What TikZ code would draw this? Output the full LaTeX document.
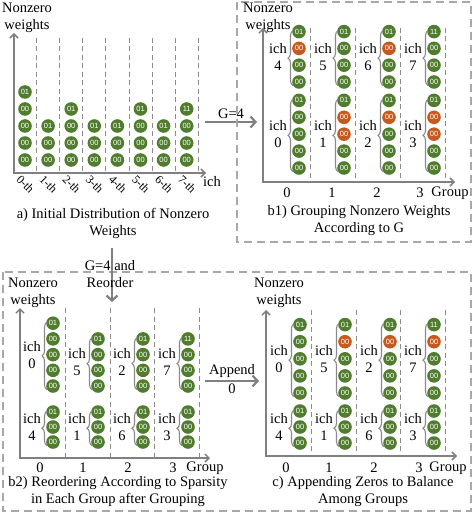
\documentclass[tikz,border=0pt]{standalone}
\usepackage{fontspec}
\setmainfont{Liberation Serif}
\setsansfont{Liberation Sans}
\usetikzlibrary{positioning,arrows.meta,calc,decorations.pathreplacing}

% one column of weight dots, listed from bottom to top
\newcommand\wstack[5]{%
 \foreach[count=\wi from 0] \wsty/\wtxt in {#5}{%
  \node[\wsty] (#1-\wi) at (#2,#3-\wi*#4) {\wtxt};
  \xdef\wtop{\wi}}}
% a column with its brace and ich label
\newcommand\wgroup[6]{%
 \wstack{#1}{#2}{#3}{#4}{#5}
 \draw[grpbrace] ([shift={(-6pt,-3.5pt)}]#1-0.center) -- ([shift={(-6pt,1pt)}]#1-\wtop.center);
 \node[ichlbl] (#1-ich) at ($(#1-0)!.5!(#1-\wtop)+(-21,0)$) {ich\\#6};}

\begin{document}
\begin{tikzpicture}[x=1pt,y=-1pt,font=\fontsize{14.5}{17}\selectfont,
 wt/.style={circle,fill=wgreen,text=white,inner sep=0pt,minimum size=13.6pt,font=\sffamily\fontsize{7.5}{8}\selectfont},
 pad/.style={wt,fill=padorange},
 axis/.style={draw=axisgray,line width=1.5pt,{Straight Barb[length=4pt,width=8pt]}-{Straight Barb[length=4pt,width=8pt]}},
 sep/.style={draw=sepgray,line width=.8pt,dash pattern=on 5pt off 3.5pt},
 panel/.style={draw=boxgray,line width=1.2pt,dash pattern=on 8pt off 5pt},
 flowarrow/.style={draw=axisgray,line width=2.2pt,-{Straight Barb[length=5pt,width=11pt]}},
 grpbrace/.style={draw=bracegray,line width=1.1pt,decorate,decoration={brace,amplitude=5pt}},
 ichlbl/.style={align=center,inner sep=0pt},
 captext/.style={align=center,inner sep=0pt},
 thlbl/.style={rotate=-45,inner sep=0pt,font=\fontsize{12}{14}\selectfont}]
\definecolor{wgreen}{HTML}{507C2E}
\definecolor{padorange}{HTML}{C65A1E}
\definecolor{axisgray}{HTML}{808080}
\definecolor{sepgray}{HTML}{8C8C8C}
\definecolor{boxgray}{HTML}{A8A8A8}
\definecolor{bracegray}{HTML}{8A8A8A}
\useasboundingbox (0,0) rectangle (474,513);
% a) initial distribution
\node[captext] (a-ylbl) at (27,18) {Nonzero\\weights};
\coordinate (a-o) at (14,173);
\coordinate (a-y) at (14,33);
\coordinate (a-x) at (206,173);
\foreach \i in {0,...,7} \draw[sep] (36.5+23.1*\i,38) -- (36.5+23.1*\i,173);
\draw[axis] (a-y) -- (a-o) -- (a-x);
\node (a-xlbl) at (212,182) {ich};
\wstack{a0}{25}{160}{17}{wt/00,wt/00,wt/00,wt/00,wt/01}
\wstack{a1}{48.1}{160}{17}{wt/00,wt/00,wt/01}
\wstack{a2}{71.2}{160}{17}{wt/00,wt/00,wt/00,wt/01}
\wstack{a3}{94.3}{160}{17}{wt/00,wt/00,wt/01}
\wstack{a4}{117.4}{160}{17}{wt/00,wt/00,wt/01}
\wstack{a5}{140.5}{160}{17}{wt/00,wt/00,wt/00,wt/01}
\wstack{a6}{163.6}{160}{17}{wt/00,wt/00,wt/01}
\wstack{a7}{186.7}{160}{17}{wt/00,wt/00,wt/00,wt/11}
\foreach \i in {0,...,7} \node[thlbl] (a\i-th) at (25.5+23.1*\i,184.5) {\i-th};
\node[captext] (a-cap) at (113,223) {a) Initial Distribution of Nonzero\\Weights};
\coordinate (g4a) at (205,122);
\coordinate (g4b) at (257,122);
\draw[flowarrow] (g4a) -- node[above,inner sep=2.5pt] (g4lbl) {G=4} (g4b);
% b1) grouping
\draw[panel] (237,2) rectangle (471,242);
\node[captext] (b1-ylbl) at (268,18) {Nonzero\\weights};
\coordinate (b1-o) at (263,182);
\coordinate (b1-y) at (263,28);
\coordinate (b1-x) at (455,182);
\foreach \x in {310,355,400,445} \draw[sep] (\x,28) -- (\x,182);
\draw[axis] (b1-y) -- (b1-o) -- (b1-x);
\wgroup{b1t0}{299}{82}{16.8}{wt/00,wt/00,pad/00,wt/01}{4}
\wgroup{b1t1}{344}{82}{16.8}{wt/00,wt/00,wt/00,wt/01}{5}
\wgroup{b1t2}{389}{82}{16.8}{wt/00,wt/00,pad/00,wt/01}{6}
\wgroup{b1t3}{434}{82}{16.8}{wt/00,wt/00,wt/00,wt/11}{7}
\wgroup{b1b0}{299}{168}{16.9}{wt/00,wt/00,wt/00,wt/00,wt/01}{0}
\wgroup{b1b1}{344}{168}{16.9}{wt/00,wt/00,pad/00,pad/00,wt/01}{1}
\wgroup{b1b2}{389}{168}{16.9}{wt/00,wt/00,wt/00,pad/00,wt/01}{2}
\wgroup{b1b3}{434}{168}{16.9}{wt/00,wt/00,pad/00,pad/00,wt/01}{3}
\node (b1-g0) at (287,193) {0};
\node (b1-g1) at (332,193) {1};
\node (b1-g2) at (377,193) {2};
\node (b1-g3) at (420,193) {3};
\node (b1-glbl) at (450,193) {Group};
\node[captext] (b1-cap) at (359,221) {b1) Grouping Nonzero Weights\\According to G};
% b2) reordering and c) appending zeros
\draw[panel] (3,272) rectangle (471,511);
\coordinate (ra) at (112,248);
\coordinate (rb) at (112,302);
\draw[flowarrow] (ra) -- (rb);
\node[captext] (r-lbl) at (110,274) {G=4 and\\Reorder};
\node[captext] (b2-ylbl) at (33,293) {Nonzero\\weights};
\coordinate (b2-o) at (20,458);
\coordinate (b2-y) at (20,308);
\coordinate (b2-x) at (210,458);
\foreach \x in {65,110,154,199} \draw[sep] (\x,308) -- (\x,458);
\draw[axis] (b2-y) -- (b2-o) -- (b2-x);
\wgroup{b2t0}{53}{386}{15.7}{wt/00,wt/00,wt/00,wt/00,wt/01}{0}
\wgroup{b2t1}{98}{386}{15.7}{wt/00,wt/00,wt/00,wt/01}{5}
\wgroup{b2t2}{143}{386}{15.7}{wt/00,wt/00,wt/00,wt/01}{2}
\wgroup{b2t3}{188}{386}{15.7}{wt/00,wt/00,wt/00,wt/11}{7}
\wgroup{b2b0}{53}{442}{15}{wt/00,wt/00,wt/01}{4}
\wgroup{b2b1}{98}{442}{15}{wt/00,wt/00,wt/01}{1}
\wgroup{b2b2}{143}{442}{15}{wt/00,wt/00,wt/01}{6}
\wgroup{b2b3}{188}{442}{15}{wt/00,wt/00,wt/01}{3}
\node (b2-g0) at (40,468) {0};
\node (b2-g1) at (83,468) {1};
\node (b2-g2) at (128,468) {2};
\node (b2-g3) at (173,468) {3};
\node (b2-glbl) at (205,468) {Group};
\node[captext] (b2-cap) at (118,492) {b2) Reordering According to Sparsity\\in Each Group after Grouping};
\coordinate (apa) at (205,381);
\coordinate (apb) at (259,381);
\draw[flowarrow] (apa) -- node[above,inner sep=2.5pt] (ap-lbl) {Append} node[below,inner sep=2pt] (ap-zero) {0} (apb);
\node[captext] (c-ylbl) at (279,293) {Nonzero\\weights};
\coordinate (c-o) at (266,456);
\coordinate (c-y) at (266,310);
\coordinate (c-x) at (457,456);
\foreach \x in {311,356,400,445} \draw[sep] (\x,310) -- (\x,456);
\draw[axis] (c-y) -- (c-o) -- (c-x);
\wgroup{ct0}{300}{393}{17.1}{wt/00,wt/00,wt/00,wt/00,wt/01}{0}
\wgroup{ct1}{345}{393}{17.1}{wt/00,wt/00,wt/00,pad/00,wt/01}{5}
\wgroup{ct2}{390}{393}{17.1}{wt/00,wt/00,wt/00,pad/00,wt/01}{2}
\wgroup{ct3}{434}{393}{17.1}{wt/00,wt/00,wt/00,pad/00,wt/11}{7}
\wgroup{cb0}{300}{443}{16}{wt/00,wt/00,wt/01}{4}
\wgroup{cb1}{345}{443}{16}{wt/00,wt/00,wt/01}{1}
\wgroup{cb2}{390}{443}{16}{wt/00,wt/00,wt/01}{6}
\wgroup{cb3}{434}{443}{16}{wt/00,wt/00,wt/01}{3}
\node (c-g0) at (286,468) {0};
\node (c-g1) at (329,468) {1};
\node (c-g2) at (374,468) {2};
\node (c-g3) at (419,468) {3};
\node (c-glbl) at (448,468) {Group};
\node[captext] (c-cap) at (363,492) {c) Appending Zeros to Balance\\Among Groups};
\end{tikzpicture}
\end{document}
